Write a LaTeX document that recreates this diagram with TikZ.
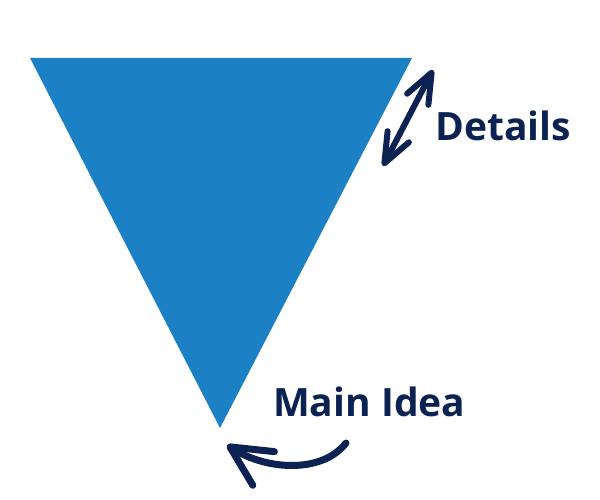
\documentclass[tikz,border=0pt]{standalone}
\usepackage{fontspec}
\setmainfont{Open Sans}
\usetikzlibrary{arrows.meta}
\definecolor{funnelblue}{RGB}{27,128,196}
\definecolor{navy}{RGB}{12,34,82}

\begin{document}
\begin{tikzpicture}[x=1pt,y=-1pt,
  label text/.style={inner sep=0pt,anchor=base west,text=navy,font=\fontsize{39}{39}\selectfont\bfseries},
  hint arrow/.style={navy,line width=6pt,line cap=round,line join=round}]
  \useasboundingbox (0,0) rectangle (600,500);
  \coordinate (top left) at (30,58);
  \coordinate (top right) at (412,58);
  \coordinate (tip) at (220,428);
  \fill[funnelblue] (top left)--(top right)--(tip)--cycle;
  \node[label text] (details) at (435,141) {Details};
  \node[label text] (main) at (273,416) {Main Idea};
  \coordinate (d up) at (433,70);
  \coordinate (d down) at (383,166);
  \coordinate (m start) at (346,443);
  \coordinate (m end) at (227,445);
  \draw[hint arrow,{Straight Barb[length=30pt,width=24pt,round]}-{Straight Barb[length=30pt,width=24pt,round]}](d down)--(d up);
  \draw[hint arrow,line width=7pt,-{Straight Barb[length=40pt,width=40pt,round]}](m start)..controls (322,474) and (266,470)..(m end);
\end{tikzpicture}
\end{document}
